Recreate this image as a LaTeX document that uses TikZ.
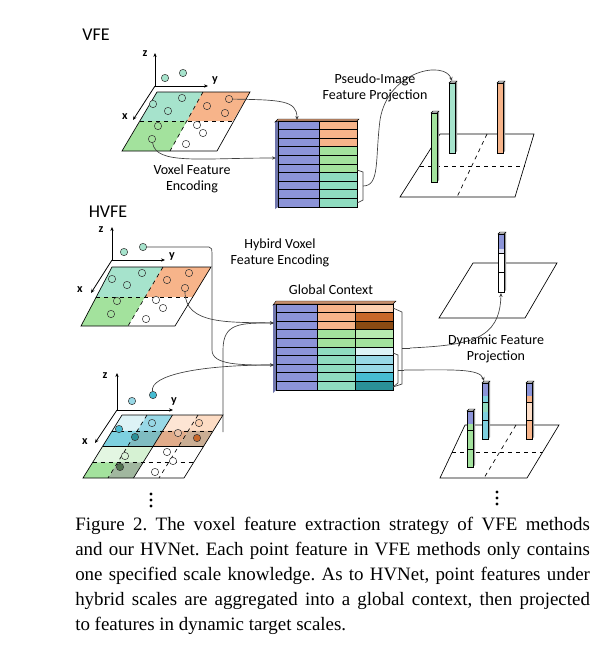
\documentclass[tikz,border=0pt]{standalone}
\usepackage{fontspec}
\setmainfont{Liberation Serif}
\newfontfamily\lab{Carlito}
\usetikzlibrary{arrows.meta}
\definecolor{tl}{HTML}{A6E3CC}
\definecolor{orn}{HTML}{F7B48A}
\definecolor{grn}{HTML}{A3E29D}
\definecolor{pu}{HTML}{8C94D8}
\definecolor{tg}{HTML}{8FDCC0}
\definecolor{lor}{HTML}{FCD0B0}
\definecolor{dor}{HTML}{C8682A}
\definecolor{brn}{HTML}{8A4A12}
\definecolor{lgr}{HTML}{B8EAB0}
\definecolor{lcy}{HTML}{DDF3F6}
\definecolor{lbl}{HTML}{98D8E6}
\definecolor{cy}{HTML}{46BCD2}
\definecolor{dtl}{HTML}{2A9098}
\tikzset{
  pt/.style={circle,draw=black!80,thin,inner sep=0pt,minimum size=5.5pt},
  conn/.style={draw=black!75,line width=0.5pt,-{Stealth[length=3pt,width=2.5pt]}},
  link/.style={draw=black!75,line width=0.5pt},
  mid/.style={dashed,line width=0.5pt},
  ax/.style={line width=0.6pt,-{Stealth[length=3pt,width=2.5pt]}},
  txt/.style={font=\lab\fontsize{10.5}{12.5}\selectfont,align=center},
  axl/.style={font=\lab\fontsize{9}{10}\selectfont},
  dot/.style={circle,fill=black,inner sep=0pt,minimum size=2.6pt}
}
\newcommand{\pillar}[4]{% x, top, bottom, colours
  \fill[black!40] (#1+6,#2) -- (#1+8,#2-2) -- (#1+8,#3-2) -- (#1+6,#3) -- cycle;
  \filldraw[fill=black!25,line width=0.3pt] (#1,#2) -- (#1+2,#2-2) -- (#1+8,#2-2) -- (#1+6,#2) -- cycle;
  \filldraw[fill=#4,line width=0.4pt] (#1,#2) rectangle (#1+6,#3);}
\begin{document}
\begin{tikzpicture}[x=0.75pt,y=-0.75pt]
\useasboundingbox (0,0) rectangle (613,654);

% ---------- VFE ----------
\node[font=\lab\fontsize{13.5}{15}\selectfont] (vfe) at (96,35) {VFE};
\draw[ax] (155,86) -- (155,53);
\draw[ax] (155,86) -- (208,86);
\draw[ax] (155,86) -- (133,120);
\node[axl] (zl) at (145,54) {\textbf{z}};
\node[axl] (yl) at (215,81) {\textbf{y}};
\node[axl] (xl) at (125,117) {\textbf{x}};
\fill[tl] (157,92) -- (203,92) -- (187,121) -- (140,121) -- cycle;
\fill[orn] (203,92) -- (250,92) -- (233,121) -- (187,121) -- cycle;
\fill[grn] (140,121) -- (187,121) -- (170,151) -- (122,151) -- cycle;
\draw[line width=0.5pt] (157,92) -- (250,92) -- (217,151) -- (122,151) -- cycle;
\draw[mid] (140,121) -- (233,121);
\draw[mid] (203,92) -- (170,151);
\foreach \p/\c/\n in {165/78/tl, 183/73/tl, 182/98/tl, 153/104/tl, 168/111/tl,
  207/106/orn, 225/113/orn, 158/126/grn, 197/125/white, 203/133/white, 186/144/white}
  \node[pt,fill=\n] at (\p,\c) {};
\node[pt,fill=orn] (a1) at (229,99) {};
\node[pt,fill=grn] (a2) at (152,139) {};

% feature stack
\fill[pu!80!black] (275,122) -- (278,120) -- (278,207) -- (275,209) -- cycle;
\filldraw[fill=orn!80!black,line width=0.3pt] (275,122) -- (278,119) -- (359,119) -- (357,121) -- (278,121) -- cycle;
\foreach \c [count=\i from 0] in {orn,orn,orn,grn,grn,grn,tg,tg,tg,tg} {
  \filldraw[fill=pu,line width=0.5pt] (278,121+\i*8.6) rectangle ++(41,8.6);
  \filldraw[fill=\c,line width=0.5pt] (319,121+\i*8.6) rectangle ++(38,8.6);
}
\coordinate (s1t) at (297,120);
\coordinate (s1l) at (276,158);
\coordinate (s1r) at (363,186);
\draw[link] (357,170) -- (363,172) -- (363,200) -- (357,203);
\draw[conn] (a1) .. controls (280,100) and (297,100) .. (s1t);
\draw[conn] (a2) .. controls (156,165) and (200,158) .. (s1l);
\node[txt] (vfenc) at (192,179) {Voxel Feature\\Encoding};

% BEV plane
\draw[line width=0.5pt] (440,134) -- (534,134) -- (515,197) -- (400,197) -- cycle;
\draw[mid] (420,166) -- (525,166);
\draw[mid] (487,134) -- (457,197);
\pillar{431}{113}{182}{grn}
\pillar{449}{83}{153}{tl}
\pillar{497}{83}{153}{orn}
\coordinate (p1) at (452,81);
\draw[conn] (s1r) .. controls (380,186) and (375,160) .. (380,120) .. controls (388,70) and (445,60) .. (p1);
\node[txt] (pif) at (375,88) {Pseudo-Image\\Feature Projection};

% ---------- HVFE ----------
\node[font=\lab\fontsize{13.5}{15}\selectfont] (hvfe) at (108,212) {HVFE};
\draw[ax] (112,260) -- (112,227);
\draw[ax] (112,260) -- (165,260);
\draw[ax] (112,260) -- (91,293);
\node[axl] at (101,230) {\textbf{z}};
\node[axl] at (172,257) {\textbf{y}};
\node[axl] at (80,290) {\textbf{x}};
\fill[tl] (112,267) -- (163,267) -- (145,297) -- (96,297) -- cycle;
\fill[orn] (163,267) -- (211,267) -- (193,297) -- (145,297) -- cycle;
\fill[grn] (96,297) -- (145,297) -- (128,326) -- (81,326) -- cycle;
\draw[line width=0.5pt] (112,267) -- (211,267) -- (175,326) -- (81,326) -- cycle;
\draw[mid] (96,297) -- (193,297);
\draw[mid] (163,267) -- (128,326);
\foreach \p/\c/\n in {124/252/tl, 142/273/tl, 112/279/tl, 127/285/tl,
  167/280/orn, 189/273/orn, 117/301/grn, 111/314/grn, 156/300/white, 163/308/white, 146/319/white}
  \node[pt,fill=\n] at (\p,\c) {};
\node[pt,fill=tl] (b1) at (143,247) {};
\node[pt,fill=orn] (b2) at (185,288) {};

% multi-scale grid
\draw[ax] (117,410) -- (117,373);
\draw[ax] (117,410) -- (173,410);
\draw[ax] (117,410) -- (95,443);
\node[axl] at (105,376) {\textbf{z}};
\node[axl] at (174,402) {\textbf{y}};
\node[axl] at (85,442) {\textbf{x}};
\node[pt,fill=lbl] at (132,401) {};
\node[pt,fill=cy] (c1) at (153,395) {};
\foreach \r/\cols in {0/{lcy,lbl,lor!55,lor!75},1/{cy!70,dtl!60,dor!55,brn!45},
  2/{grn!30,grn!45,white,white},3/{grn,grn!60!black!60,white,white}} {
  \foreach \c [count=\k from 0] in \cols {
    \pgfmathsetmacro{\ya}{415+\r*15.75}
    \pgfmathsetmacro{\xa}{122-\r*9.75+\k*25.25}
    \fill[\c] (\xa,\ya) -- ++(25.25,0) -- ++(-9.75,15.75) -- ++(-25.25,0) -- cycle;
  }
}
\draw[line width=0.5pt] (122,415) -- (223,415) -- (184,478) -- (83,478) -- cycle;
\draw[line width=0.5pt] (102.5,446.5) -- (203.5,446.5);
\draw[line width=0.5pt] (172.5,415) -- (133.5,478);
\draw[mid] (112,431) -- (213,431);
\draw[mid] (92.5,462) -- (193.5,462);
\draw[mid] (147,415) -- (108,478);
\draw[mid] (198,415) -- (159,478);
\foreach \p/\c/\n in {152/423/lbl, 135/437/dtl, 199/423/lor, 178/433/dor!40,
  197/438/dor, 125/456/grn!40, 167/452/white, 173/461/white, 155/472/white, 120/467/grn!50!black}
  \node[pt,fill=\n] at (\p,\c) {};
\node[pt,fill=cy] (c2) at (119,429) {};
\coordinate (g1) at (223,432);

% global context stack
\fill[pu!80!black] (273,305) -- (276,302) -- (276,390) -- (273,393) -- cycle;
\filldraw[fill=orn!80!black,line width=0.3pt] (273,305) -- (276,301) -- (396,301) -- (393,304) -- (276,304) -- cycle;
\foreach \a/\b [count=\i from 0] in {orn/lor,orn/dor,orn/brn,grn/lgr,grn/grn,tg/lcy,tg/lbl,tg/lbl,tg/cy,tg/dtl} {
  \filldraw[fill=pu,line width=0.5pt] (276,304+\i*8.6) rectangle ++(41,8.6);
  \filldraw[fill=\a,line width=0.5pt] (317,304+\i*8.6) rectangle ++(38,8.6);
  \filldraw[fill=\b,line width=0.5pt] (355,304+\i*8.6) rectangle ++(38,8.6);
}
\node[txt] (gc) at (331,290) {Global Context};
\node[txt] (hvenc) at (280,253) {Hybird Voxel\\Feature Encoding};
\coordinate (s2a) at (274,323);
\coordinate (s2b) at (274,365);
\draw[conn] (b2) .. controls (185,325) and (230,322) .. (s2a);
\draw[conn] (g1) -- (223,350) .. controls (223,323) and (240,323) .. (s2a);
\draw[conn] (b1) -- (209,247) .. controls (212,247) and (212,250) .. (212,253) -- (212,350) .. controls (212,365) and (240,365) .. (s2b);
\draw[conn] (c1) .. controls (150,375) and (200,365) .. (s2b);

% brackets and projections
\draw[link] (393,308) -- (402,312) -- (402,384) -- (393,387);
\draw[link] (393,353) -- (398,355) -- (398,383) -- (393,387);
\draw[link] (402,348) -- (410,348);
\draw[link] (398,370) -- (404,370);

\draw[line width=0.5pt] (473,263) -- (557,263) -- (525,318) -- (439,318) -- cycle;
\pillar{498}{234}{292}{white}
\fill[pu] (498,234) rectangle (504,249);
\fill[pu!30] (498,249) rectangle (504,253);
\draw[line width=0.4pt] (498,234) rectangle (504,292);
\draw[line width=0.4pt] (498,253) -- (504,253) (498,272) -- (504,272);
\coordinate (q1) at (501,293);
\draw[conn] (410,348) .. controls (470,345) and (500,340) .. (q1);

\draw[line width=0.5pt] (465,425) -- (559,425) -- (527,478) -- (440,478) -- cycle;
\draw[mid] (452,452) -- (543,452);
\draw[mid] (516,425) -- (484,478);
\pillar{467}{411}{467}{grn}
\fill[pu] (467,411) rectangle (473,424);
\draw[line width=0.4pt] (467,411) rectangle (473,467) (467,430) -- (473,430) (467,449) -- (473,449);
\pillar{482}{383}{439}{cy!70}
\fill[pu] (482,383) rectangle (488,396);
\fill[tg] (482,402) rectangle (488,412);
\draw[line width=0.4pt] (482,383) rectangle (488,439) (482,402) -- (488,402) (482,420) -- (488,420);
\pillar{526}{383}{439}{orn}
\fill[pu] (526,383) rectangle (532,396);
\fill[lor!70] (526,402) rectangle (532,420);
\draw[line width=0.4pt] (526,383) rectangle (532,439) (526,402) -- (532,402) (526,420) -- (532,420);
\coordinate (q2) at (484,381);
\draw[conn] (404,370) .. controls (450,370) and (480,368) .. (q2);
\node[txt] (dfp) at (496,349) {Dynamic Feature\\Projection};

\foreach \d in {0,1,2} {
  \node[dot] at (151,494+\d*6) {};
  \node[dot] at (497,492+\d*6) {};
}

% caption
\node[anchor=north west,inner sep=0pt,text width=386pt,align=justify,
  font=\fontsize{14.2}{18.75}\selectfont\frenchspacing] (cap) at (75,517)
  {Figure 2. The voxel feature extraction strategy of VFE methods\linebreak
  and our HVNet. Each point feature in VFE methods only contains\linebreak
  one specified scale knowledge. As to HVNet, point features under\linebreak
  hybrid scales are aggregated into a global context, then projected\linebreak
  to features in dynamic target scales.};
\end{tikzpicture}
\end{document}
